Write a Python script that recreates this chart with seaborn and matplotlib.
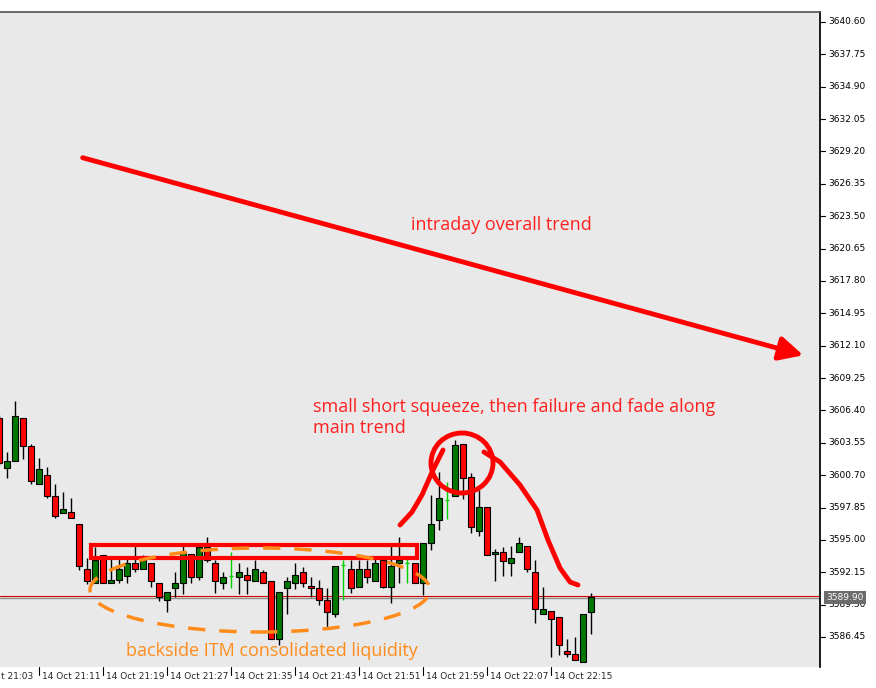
import numpy as np
import pandas as pd
import matplotlib
matplotlib.use("Agg")
import matplotlib.pyplot as plt
import seaborn as sns
from matplotlib.patches import Ellipse, Rectangle

sns.set_theme(style="white")
plt.rcParams['font.family'] = ['Open Sans', 'DejaVu Sans']

# minutes after 21:00
minutes = list(range(6, 81))
opens = [3605.74,3601.33,3601.95,3605.74,3603.27,3599.92,3600.72,3598.87,3597.37,3597.46,
         3596.40,3592.44,3591.21,3593.67,3591.21,3591.47,3591.82,3592.97,3592.44,3592.97,
         3591.21,3589.71,3590.77,3591.21,3593.76,3591.74,3594.38,3592.97,3591.21,3591.74,
         3591.74,3591.91,3591.38,3592.18,3591.38,3586.28,3590.77,3591.21,3592.18,3590.94,
         3590.77,3589.71,3588.48,3592.70,3592.44,3590.86,3592.44,3591.38,3593.23,3590.86,
         3592.97,3593.00,3592.97,3591.21,3594.73,3596.75,3598.43,3598.87,3603.45,3600.54,
         3595.79,3597.90,3593.76,3593.94,3592.97,3593.94,3594.46,3592.18,3588.48,3588.74,
         3588.21,3585.22,3584.95,3584.25,3588.65]
highs = [3606.00,3602.74,3607.23,3605.74,3603.45,3602.21,3601.42,3599.92,3599.22,3598.69,
         3596.40,3593.41,3594.38,3593.67,3593.50,3593.32,3593.41,3594.73,3593.67,3592.97,
         3591.21,3590.41,3592.18,3594.64,3593.76,3594.64,3595.26,3593.23,3592.18,3593.94,
         3592.97,3592.62,3593.23,3592.35,3591.38,3590.41,3591.74,3592.97,3592.62,3591.74,
         3591.47,3590.77,3592.70,3593.23,3593.23,3593.23,3593.23,3593.41,3593.23,3594.73,
         3595.26,3593.50,3592.97,3594.73,3598.96,3600.98,3600.10,3603.80,3603.45,3600.89,
         3599.40,3597.90,3594.20,3594.38,3594.46,3595.26,3594.46,3593.23,3590.86,3588.74,
         3588.21,3586.28,3586.45,3588.48,3590.33]
lows = [3601.60,3600.45,3601.95,3602.13,3599.92,3599.92,3598.69,3596.93,3597.37,3596.93,
        3592.35,3591.12,3591.21,3591.21,3591.21,3591.21,3591.21,3592.18,3592.44,3590.86,
        3589.62,3588.65,3589.97,3590.24,3591.21,3591.47,3593.06,3590.33,3590.68,3590.77,
        3590.24,3590.24,3591.38,3591.21,3586.28,3585.75,3588.48,3590.68,3590.86,3589.97,
        3589.27,3587.24,3588.21,3589.71,3590.33,3590.86,3591.21,3591.38,3590.77,3589.45,
        3591.21,3591.21,3591.21,3590.15,3594.11,3595.87,3596.84,3598.87,3598.60,3595.61,
        3595.35,3593.67,3591.38,3591.82,3591.82,3593.94,3592.18,3587.69,3588.48,3584.69,
        3584.87,3584.69,3584.43,3584.25,3586.72]
closes = [3601.77,3601.95,3605.91,3603.27,3600.19,3601.24,3598.87,3597.11,3597.72,3596.93,
          3592.70,3591.38,3593.23,3591.21,3591.47,3592.44,3592.97,3592.44,3593.23,3591.38,
          3589.97,3590.41,3591.21,3593.94,3591.74,3594.38,3593.23,3591.38,3591.74,3591.80,
          3592.18,3591.47,3592.44,3591.21,3586.28,3590.41,3591.38,3591.91,3591.21,3590.77,
          3589.71,3588.65,3592.70,3592.75,3590.77,3592.44,3591.74,3592.97,3590.86,3592.70,
          3593.23,3592.95,3591.21,3594.73,3596.40,3598.69,3598.48,3603.36,3600.45,3596.14,
          3597.90,3593.67,3593.94,3593.14,3593.41,3594.73,3592.44,3588.92,3588.92,3588.04,
          3585.75,3584.95,3584.43,3588.48,3589.97]

ytick_vals = [3640.60,3637.75,3634.90,3632.05,3629.20,3626.35,3623.50,3620.65,3617.80,
              3614.95,3612.10,3609.25,3606.40,3603.55,3600.70,3597.85,3595.00,3592.15,
              3589.30,3586.45]
xtick_min = [3, 11, 19, 27, 35, 43, 51, 59, 67, 75]
xtick_lab = ["14 Oct 21:03","14 Oct 21:11","14 Oct 21:19","14 Oct 21:27","14 Oct 21:35",
             "14 Oct 21:43","14 Oct 21:51","14 Oct 21:59","14 Oct 22:07","14 Oct 22:15"]
last_price = 3589.90

df = pd.DataFrame(dict(t=minutes, o=opens, h=highs, l=lows, c=closes))

W, H = 876, 688
fig = plt.figure(figsize=(W/100, H/100), dpi=100)
fig.patch.set_facecolor('white')
ax = fig.add_axes([0/W, 1-667/H, 820/W, 655/H])
ax.set_facecolor('#e9e9e9')
x0 = 6.125
ax.set_xlim(x0, x0 + 820/8)
ymax = 3640.60 + 10*0.08805
ymin = 3640.60 - 645*0.08805
ax.set_ylim(ymin, ymax)

doji = (df.c - df.o).abs() < 0.1
for _, r in df.iterrows():
    d = abs(r.c - r.o) < 0.1
    ax.vlines(r.t, r.l, r.h, color='#00d000' if d else 'black', lw=1, zorder=2)
    if d:
        ax.hlines(r.c, r.t-0.3, r.t+0.3, color='#00d000', lw=1, zorder=3)
bodies = df[~doji]
cols = np.where(bodies.c >= bodies.o, '#007800', '#ff0000')
ax.bar(bodies.t, (bodies.c - bodies.o).abs(), bottom=np.minimum(bodies.o, bodies.c),
       width=0.65, color=cols, edgecolor='black', lw=0.8, zorder=3)

ax.axhline(last_price, color='#909090', lw=1, zorder=1)
ax.axhline(last_price + 0.12, color='#d00000', lw=0.8, zorder=1)

ax.set_xticks([])
ax.set_yticks([])
for s in ['left', 'bottom']:
    ax.spines[s].set_visible(False)
ax.spines['top'].set_color('#555555')
ax.spines['right'].set_color('black')

for v in ytick_vals:
    ax.plot([1, 1.006], [v, v], transform=ax.get_yaxis_transform(), color='black', lw=0.8, clip_on=False)
    if abs(v - last_price) < 0.5:
        continue
    ax.text(1.01, v, f"{v:.2f}", transform=ax.get_yaxis_transform(), fontsize=6.5,
            va='center', ha='left', family=['DejaVu Sans'], color='black')
ax.text(1.008, last_price, f"{last_price:.2f}", transform=ax.get_yaxis_transform(), fontsize=6.5,
        va='center', ha='left', color='white', family=['DejaVu Sans'],
        bbox=dict(facecolor='#6b6b6b', edgecolor='none', pad=1.5))
for m, lab in zip(xtick_min, xtick_lab):
    ax.plot([m, m], [0, -0.012], transform=ax.get_xaxis_transform(), color='black', lw=0.8, clip_on=False)
    if m < x0:
        continue
    ax.text(m + 0.35, -0.008, lab, transform=ax.get_xaxis_transform(), fontsize=6.5,
            va='top', ha='left', family=['DejaVu Sans'])
ax.text(0.001, -0.008, "t 21:03", transform=ax.transAxes, fontsize=6.5, va='top', ha='left',
        family=['DejaVu Sans'])

def P(x, y):
    return (x/820, 1-(y-12)/655)

T = ax.transAxes
ax.annotate('', xy=P(806, 356), xytext=P(80, 157), xycoords=T, textcoords=T,
            arrowprops=dict(arrowstyle='-|>,head_length=1.2,head_width=0.6', color='#ff0000', lw=3.5))
fs = 13
ax.text(*P(411, 225), "intraday overall trend", transform=T, color='#ff2020', fontsize=fs, va='center')
ax.text(*P(313, 398), "small short squeeze, then failure and fade along\nmain trend", transform=T,
        color='#ff2020', fontsize=fs, va='top', linespacing=1.2)
ax.text(*P(126, 651), "backside ITM consolidated liquidity", transform=T, color='#ff8c1a',
        fontsize=fs, va='center')

bx0, by0 = P(91, 558)
bx1, by1 = P(417, 545)
ax.add_patch(Rectangle((bx0, by0), bx1-bx0, by1-by0, transform=T, fill=False,
                       edgecolor='#ff0000', lw=3, zorder=5))
cx, cy = P(260, 590)
ax.add_patch(Ellipse((cx, cy), 340/820, 84/655, transform=T, fill=False, edgecolor='#ff8c1a',
                     lw=2.5, ls=(0, (5, 4)), zorder=5))
ccx, ccy = P(462, 463)
ax.add_patch(Ellipse((ccx, ccy), 62/820, 60/655, transform=T, fill=False, edgecolor='#ff0000',
                     lw=3.5, zorder=5))
left_curve = [(400, 525), (412, 512), (422, 495), (433, 470), (443, 450)]
right_curve = [(484, 452), (500, 462), (520, 485), (537, 510), (548, 540), (560, 568), (570, 582), (578, 585)]
for pts in (left_curve, right_curve):
    xs, ys = zip(*[P(a, b) for a, b in pts])
    ax.plot(xs, ys, transform=T, color='#ff0000', lw=3.5, solid_capstyle='round', zorder=5)

fig.savefig('out.png', dpi=100)
